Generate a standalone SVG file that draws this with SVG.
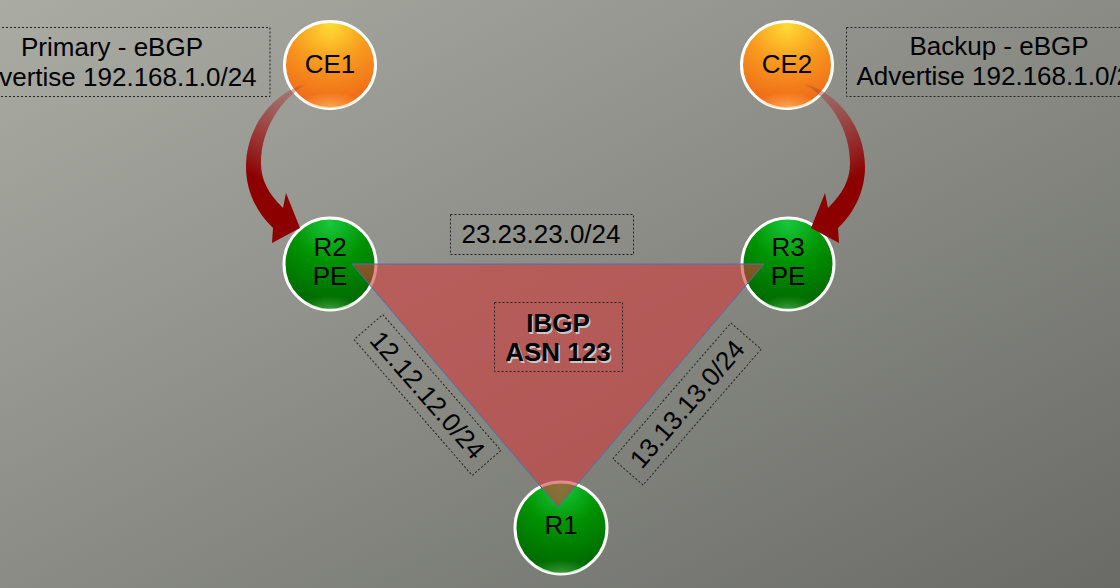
<svg xmlns="http://www.w3.org/2000/svg" width="1120" height="588" viewBox="0 0 1120 588">
<defs>
<linearGradient id="bg" x1="0" y1="0" x2="1" y2="1">
<stop offset="0" stop-color="#aaaca4"/>
<stop offset="1" stop-color="#6a6b66"/>
</linearGradient>
<radialGradient id="orange" cx="50%" cy="5%" r="95%">
<stop offset="0" stop-color="#ffdb33"/>
<stop offset="0.45" stop-color="#f89a1e"/>
<stop offset="1" stop-color="#ee6418"/>
</radialGradient>
<radialGradient id="green" cx="50%" cy="5%" r="95%">
<stop offset="0" stop-color="#18c83c"/>
<stop offset="0.45" stop-color="#009200"/>
<stop offset="1" stop-color="#006400"/>
</radialGradient>
<radialGradient id="glowO" cx="50%" cy="100%" r="60%">
<stop offset="0" stop-color="#ffb860" stop-opacity="0.8"/>
<stop offset="1" stop-color="#ffb860" stop-opacity="0"/>
</radialGradient>
<radialGradient id="glowG" cx="50%" cy="100%" r="60%">
<stop offset="0" stop-color="#50b050" stop-opacity="0.7"/>
<stop offset="1" stop-color="#50b050" stop-opacity="0"/>
</radialGradient>
<linearGradient id="arr" gradientUnits="userSpaceOnUse" x1="306" y1="84" x2="250" y2="175">
<stop offset="0" stop-color="#b04848" stop-opacity="0.35"/>
<stop offset="1" stop-color="#8c0000"/>
</linearGradient>
<style>
.txt{font-family:"Liberation Sans",Arial,sans-serif;font-size:26px;fill:#000}
.mid{text-anchor:middle}
.box{fill:none;stroke:#222;stroke-width:1;stroke-dasharray:2,2}
.ring{stroke:#fff;stroke-width:3}
.bold{font-weight:bold}
</style>
</defs>
<rect width="1120" height="588" fill="url(#bg)"/>

<g id="label-primary">
<rect class="box" x="-10" y="27.5" width="280" height="69"/>
<text class="txt mid" x="112" y="56">Primary - eBGP</text>
<text class="txt mid" x="112" y="86">Advertise 192.168.1.0/24</text>
</g>
<g id="label-backup">
<rect class="box" x="846.5" y="27.5" width="290" height="69"/>
<text class="txt mid" x="999" y="55">Backup - eBGP</text>
<text class="txt mid" x="1001" y="85">Advertise 192.168.1.0/24</text>
</g>

<g id="CE1">
<ellipse class="ring" cx="330" cy="65" rx="45.5" ry="43.5" fill="url(#orange)"/>
<ellipse cx="330" cy="95" rx="30" ry="13" fill="url(#glowO)"/>
<text class="txt mid" x="330" y="73">CE1</text>
</g>
<g id="CE2">
<ellipse class="ring" cx="787" cy="65" rx="45.5" ry="43.5" fill="url(#orange)"/>
<ellipse cx="787" cy="95" rx="30" ry="13" fill="url(#glowO)"/>
<text class="txt mid" x="787" y="73">CE2</text>
</g>
<g id="R2">
<circle class="ring" cx="330" cy="264" r="46" fill="url(#green)"/>
<ellipse cx="330" cy="298" rx="28" ry="11" fill="url(#glowG)"/>
<text class="txt mid" x="330" y="256">R2</text>
<text class="txt mid" x="330" y="285">PE</text>
</g>
<g id="R3">
<circle class="ring" cx="788" cy="264" r="46" fill="url(#green)"/>
<ellipse cx="788" cy="298" rx="28" ry="11" fill="url(#glowG)"/>
<text class="txt mid" x="788" y="256">R3</text>
<text class="txt mid" x="788" y="285">PE</text>
</g>
<g id="R1">
<circle class="ring" cx="561" cy="528" r="46" fill="url(#green)"/>
<ellipse cx="561" cy="562" rx="28" ry="11" fill="url(#glowG)"/>
<text class="txt mid" x="561" y="534">R1</text>
</g>

<g id="connectors">
<path id="arrow-ce1-r2" d="M306,84 C275,92 246,125 246,167 C246,190 256,212 273,228 L272,243 L300,228 L286,193 L283,208 C268,193 261,180 261,163 C261,130 280,100 306,84 Z" fill="url(#arr)"/>
<path id="arrow-ce2-r3" transform="translate(1111,0) scale(-1,1)" d="M306,84 C275,92 246,125 246,167 C246,190 256,212 273,228 L272,243 L300,228 L286,193 L283,208 C268,193 261,180 261,163 C261,130 280,100 306,84 Z" fill="url(#arr)"/>
<polygon id="ibgp-triangle" points="352,264 764,264 558,507" fill="#d23c3c" fill-opacity="0.6" stroke="#4a72b0" stroke-width="1"/>
</g>

<g id="label-23">
<rect class="box" x="450.5" y="214.5" width="183" height="40"/>
<text class="txt mid" x="541" y="243">23.23.23.0/24</text>
</g>
<g id="label-ibgp">
<rect class="box" x="494.5" y="302.5" width="128" height="69"/>
<text class="txt mid bold" x="559.5" y="333.5" fill="#ccc" style="fill:#c8c8c8">IBGP</text>
<text class="txt mid bold" x="558" y="332">IBGP</text>
<text class="txt mid bold" x="559.5" y="362.5" style="fill:#c8c8c8">ASN 123</text>
<text class="txt mid bold" x="558" y="361">ASN 123</text>
</g>
<g id="label-12" transform="translate(427.5,395) rotate(49)">
<rect class="box" x="-90" y="-19" width="180" height="38"/>
<text class="txt mid" x="0" y="9">12.12.12.0/24</text>
</g>
<g id="label-13" transform="translate(687,404) rotate(-49)">
<rect class="box" x="-90" y="-20" width="180" height="40"/>
<text class="txt mid" x="0" y="9">13.13.13.0/24</text>
</g>
</svg>
